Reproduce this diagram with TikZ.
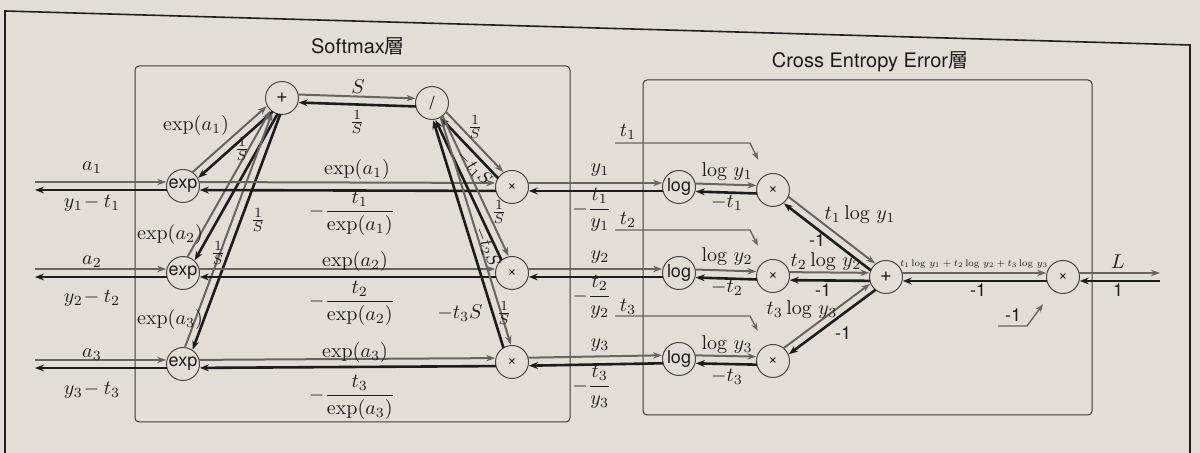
\documentclass[tikz,border=0pt]{standalone}
\usepackage{amsmath}
\usepackage{fontspec}
\setsansfont{TeX Gyre Heros}
\newfontfamily\jpfont{Noto Sans CJK JP}
\usetikzlibrary{calc,arrows.meta}
\definecolor{paper}{RGB}{226,222,214}
\definecolor{fwcol}{RGB}{105,100,95}
\definecolor{ink}{RGB}{28,28,28}
\newcommand\pairline[4][]{\draw[#2,#1] ($(#3)!2pt!90:(#4)$) -- ($(#4)!2pt!-90:(#3)$);}
\tikzset{
  op/.style={circle,draw=gray!55!black,line width=0.5pt,fill=paper,minimum size=16.5pt,inner sep=0pt,text=ink,font=\sffamily\fontsize{9}{10}\selectfont},
  fwd/.style={draw=fwcol,line width=1pt,-{Stealth[length=4.5pt,width=3.2pt]},shorten <=7.9pt,shorten >=8.4pt},
  bwd/.style={draw=ink,line width=1.3pt,-{Stealth[length=4.5pt,width=3.4pt]},shorten <=7.9pt,shorten >=8.4pt},
  lab/.style={inner sep=1pt,text=ink,font=\fontsize{10}{12}\selectfont},
  sflab/.style={inner sep=1pt,text=ink,font=\sffamily\fontsize{9}{10}\selectfont},
  layerbox/.style={draw=gray!45!black,line width=0.5pt,rounded corners=2pt},
  frameline/.style={draw=gray!25!black,line width=0.8pt},
  feed/.style={draw=fwcol,line width=0.7pt,-{Stealth[length=4pt,width=3pt]},shorten >=8.4pt},
  title/.style={inner sep=1pt,text=ink,font=\sffamily\fontsize{10}{12}\selectfont},
}
\begin{document}
\begin{tikzpicture}[x=0.5pt,y=-0.5pt]
\fill[paper] (0,0) rectangle (1200,453);
\useasboundingbox (0,0) rectangle (1200,453);
\draw[frameline] (5,453) -- (5,11) -- (1190,45) -- (1190,453);
\draw[layerbox] (135,66) rectangle (570,422);
\draw[layerbox] (643,80) rectangle (1092,415);
\node[title] (tsm) at (358,46) {Softmax{\jpfont 層}};
\node[title] (tce) at (870,62) {Cross Entropy Error{\jpfont 層}};

% operation nodes
\node[op] (exp1) at (183,186) {exp};
\node[op] (exp2) at (183,273) {exp};
\node[op] (exp3) at (183,364) {exp};
\node[op,font=\sffamily\fontsize{10}{10}\selectfont] (plus) at (282,98) {+};
\node[op] (div) at (432,103) {/};
\node[op,font=\sffamily\fontsize{8}{10}\selectfont] (m1) at (512,187) {×};
\node[op,font=\sffamily\fontsize{8}{10}\selectfont] (m2) at (512,273) {×};
\node[op,font=\sffamily\fontsize{8}{10}\selectfont] (m3) at (512,362) {×};
\node[op] (log1) at (679,187) {log};
\node[op] (log2) at (679,273) {log};
\node[op] (log3) at (679,359) {log};
\node[op,font=\sffamily\fontsize{8}{10}\selectfont] (x1) at (773,190) {×};
\node[op,font=\sffamily\fontsize{8}{10}\selectfont] (x2) at (773,276) {×};
\node[op,font=\sffamily\fontsize{8}{10}\selectfont] (x3) at (773,361) {×};
\node[op,font=\sffamily\fontsize{10}{10}\selectfont] (pce) at (886,277) {+};
\node[op,font=\sffamily\fontsize{8}{10}\selectfont] (xf) at (1063,277) {×};

\coordinate (in1) at (35,186);
\coordinate (in2) at (35,273);
\coordinate (in3) at (35,364);
\coordinate (out) at (1160,277);
\coordinate (ts1) at (615,143); \coordinate (tc1) at (750,143);
\coordinate (ts2) at (615,230); \coordinate (tc2) at (750,230);
\coordinate (ts3) at (615,316); \coordinate (tc3) at (750,316);
\coordinate (ms) at (998,326); \coordinate (mc) at (1027,326);

% inputs
\pairline[shorten <=0pt]{fwd}{in1}{exp1} \pairline[shorten >=0pt]{bwd}{exp1}{in1}
\pairline[shorten <=0pt]{fwd}{in2}{exp2} \pairline[shorten >=0pt]{bwd}{exp2}{in2}
\pairline[shorten <=0pt]{fwd}{in3}{exp3} \pairline[shorten >=0pt]{bwd}{exp3}{in3}
% exp -> plus
\pairline{fwd}{exp1}{plus} \pairline{bwd}{plus}{exp1}
\pairline{fwd}{exp2}{plus} \pairline{bwd}{plus}{exp2}
\pairline{fwd}{exp3}{plus} \pairline{bwd}{plus}{exp3}
% plus -> div
\pairline{fwd}{plus}{div} \pairline{bwd}{div}{plus}
% exp -> mul
\pairline{fwd}{exp1}{m1} \pairline{bwd}{m1}{exp1}
\pairline{fwd}{exp2}{m2} \pairline{bwd}{m2}{exp2}
\pairline{fwd}{exp3}{m3} \pairline{bwd}{m3}{exp3}
% div -> mul
\pairline{fwd}{div}{m1} \pairline{bwd}{m1}{div}
\pairline{fwd}{div}{m2} \pairline{bwd}{m2}{div}
\pairline{fwd}{div}{m3} \pairline{bwd}{m3}{div}
% mul -> log
\pairline{fwd}{m1}{log1} \pairline{bwd}{log1}{m1}
\pairline{fwd}{m2}{log2} \pairline{bwd}{log2}{m2}
\pairline{fwd}{m3}{log3} \pairline{bwd}{log3}{m3}
% log -> x
\pairline{fwd}{log1}{x1} \pairline{bwd}{x1}{log1}
\pairline{fwd}{log2}{x2} \pairline{bwd}{x2}{log2}
\pairline{fwd}{log3}{x3} \pairline{bwd}{x3}{log3}
% x -> pce
\pairline{fwd}{x1}{pce} \pairline{bwd}{pce}{x1}
\pairline{fwd}{x2}{pce} \pairline{bwd}{pce}{x2}
\pairline{fwd}{x3}{pce} \pairline{bwd}{pce}{x3}
% pce -> xf -> out
\pairline{fwd}{pce}{xf} \pairline{bwd}{xf}{pce}
\pairline[shorten >=0pt]{fwd}{xf}{out} \pairline[shorten <=0pt]{bwd}{out}{xf}
% feeds
\draw[feed] (ts1) -- (tc1) -- (x1);
\draw[feed] (ts2) -- (tc2) -- (x2);
\draw[feed] (ts3) -- (tc3) -- (x3);
\draw[feed] (ms) -- (mc) -- (xf);

% labels: inputs
\node[lab] (la1) at (92,168) {$a_1$};
\node[lab] (lb1) at (92,203) {$y_1\!-t_1$};
\node[lab] (la2) at (92,262) {$a_2$};
\node[lab] (lb2) at (92,298) {$y_2\!-t_2$};
\node[lab] (la3) at (92,355) {$a_3$};
\node[lab] (lb3) at (92,390) {$y_3\!-t_3$};
% exp -> plus
\node[lab] (lep1) at (196,126) {$\exp(a_1)$};
\node[lab] (lsp1) at (242,149) {$\frac{1}{S}$};
\node[lab] (lep2) at (170,235) {$\exp(a_2)$};
\node[lab] (lsp2) at (218,253) {$\frac{1}{S}$};
\node[lab] (lep3) at (170,320) {$\exp(a_3)$};
\node[lab] (lsp3) at (258,220) {$\frac{1}{S}$};
% plus -> div
\node[lab] (lS) at (358,87) {$S$};
\node[lab] (lSi) at (357,122) {$\frac{1}{S}$};
% exp -> mul
\node[lab] (lem1) at (357,170) {$\exp(a_1)$};
\node[lab] (lfm1) at (352,213) {$-\dfrac{t_1}{\exp(a_1)}$};
\node[lab] (lem2) at (355,262) {$\exp(a_2)$};
\node[lab] (lfm2) at (352,303) {$-\dfrac{t_2}{\exp(a_2)}$};
\node[lab] (lem3) at (355,353) {$\exp(a_3)$};
\node[lab] (lfm3) at (352,397) {$-\dfrac{t_3}{\exp(a_3)}$};
% div -> mul
\node[lab] (ldm1) at (475,127) {$\frac{1}{S}$};
\node[lab,rotate=-45,inner sep=0pt,font=\fontsize{9}{10}\selectfont] (ltm1) at (474,168) {$-t_1S$};
\node[lab] (ldm2) at (499,212) {$\frac{1}{S}$};
\node[lab,rotate=-68,inner sep=0pt,font=\fontsize{9}{10}\selectfont] (ltm2) at (487,247) {$-t_2S$};
\node[lab] (ldm3) at (504,313) {$\frac{1}{S}$};
\node[lab] (ltm3) at (460,313) {$-t_3S$};
% mul -> log
\node[lab] (ly1) at (600,170) {$y_1$};
\node[lab] (lty1) at (592,210) {$-\dfrac{t_1}{y_1}$};
\node[lab] (ly2) at (600,257) {$y_2$};
\node[lab] (lty2) at (592,297) {$-\dfrac{t_2}{y_2}$};
\node[lab] (ly3) at (600,345) {$y_3$};
\node[lab] (lty3) at (592,387) {$-\dfrac{t_3}{y_3}$};
% t feeds
\node[lab] (lt1) at (628,132) {$t_1$};
\node[lab] (lt2) at (628,220) {$t_2$};
\node[lab] (lt3) at (628,307) {$t_3$};
% log -> x
\node[lab] (llg1) at (727,172) {$\log\,y_1$};
\node[lab] (lmt1) at (727,203) {$-t_1$};
\node[lab] (llg2) at (727,257) {$\log\,y_2$};
\node[lab] (lmt2) at (727,288) {$-t_2$};
\node[lab] (llg3) at (727,345) {$\log\,y_3$};
\node[lab] (lmt3) at (727,377) {$-t_3$};
% x -> pce
\node[lab] (ltl1) at (860,215) {$t_1\log\,y_1$};
\node[sflab] (lm1) at (817,240) {-1};
\node[lab] (ltl2) at (826,262) {$t_2\log\,y_2$};
\node[sflab] (lm2) at (823,290) {-1};
\node[lab] (ltl3) at (802,310) {$t_3\log\,y_3$};
\node[sflab] (lm3) at (843,333) {-1};
% pce -> xf
\node[lab,font=\fontsize{7}{8}\selectfont,scale=0.69] (lsum) at (974,264) {$t_1\log\,y_1+t_2\log\,y_2+t_3\log\,y_3$};
\node[sflab] (lm4) at (978,290) {-1};
% xf -> out
\node[lab] (lL) at (1118,262) {$L$};
\node[sflab] (l1) at (1118,290) {1};
\node[sflab] (lm5) at (1013,315) {-1};
\end{tikzpicture}
\end{document}
